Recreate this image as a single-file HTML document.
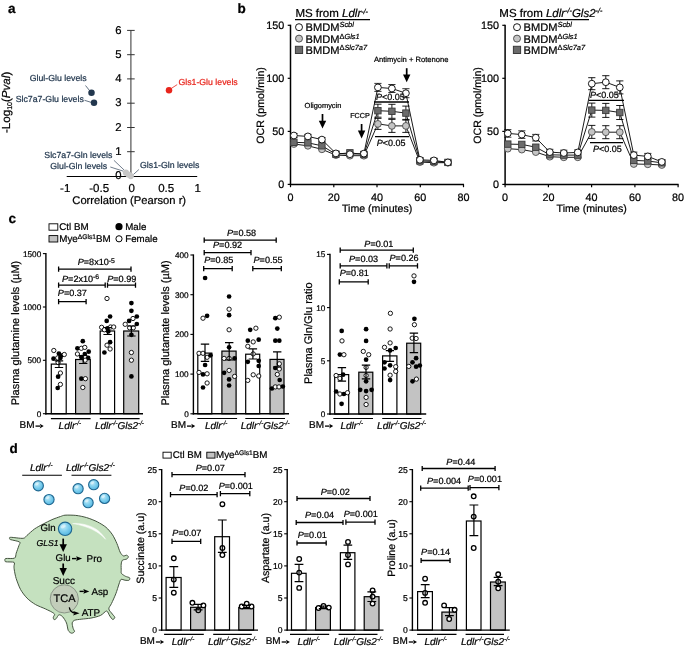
<!DOCTYPE html>
<html lang="en"><head><meta charset="utf-8"><title>Figure</title>
<style>
html,body{margin:0;padding:0;background:#fff;}
svg{display:block;font-family:'Liberation Sans', sans-serif;}
</style></head>
<body>
<svg width="685" height="648" viewBox="0 0 685 648" text-rendering="geometricPrecision" font-family='Liberation Sans, sans-serif'>
<defs>
<radialGradient id="bg" cx="0.4" cy="0.35" r="0.7">
<stop offset="0" stop-color="#bfe9f7"/><stop offset="0.5" stop-color="#7fcfee"/><stop offset="1" stop-color="#4eb3df"/>
</radialGradient>
</defs>
<rect width="685" height="648" fill="#fff"/>
<text x="8.0" y="13.3" font-size="13.5" font-weight="bold" stroke="#000" stroke-width="0.22">a</text>
<line x1="130.9" y1="30.4" x2="130.9" y2="176.0" stroke="#444" stroke-width="1.1" />
<line x1="66.7" y1="176.5" x2="197.2" y2="176.5" stroke="#000" stroke-width="1.1" />
<text x="121.6" y="179.2" font-size="11.3" text-anchor="end" stroke="#000" stroke-width="0.22">0</text>
<line x1="127.1" y1="151.7" x2="134.7" y2="151.7" stroke="#333" stroke-width="1" />
<text x="121.6" y="154.9" font-size="11.3" text-anchor="end" stroke="#000" stroke-width="0.22">1</text>
<line x1="127.1" y1="127.5" x2="134.7" y2="127.5" stroke="#333" stroke-width="1" />
<text x="121.6" y="130.7" font-size="11.3" text-anchor="end" stroke="#000" stroke-width="0.22">2</text>
<line x1="127.1" y1="103.2" x2="134.7" y2="103.2" stroke="#333" stroke-width="1" />
<text x="121.6" y="106.4" font-size="11.3" text-anchor="end" stroke="#000" stroke-width="0.22">3</text>
<line x1="127.1" y1="78.9" x2="134.7" y2="78.9" stroke="#333" stroke-width="1" />
<text x="121.6" y="82.1" font-size="11.3" text-anchor="end" stroke="#000" stroke-width="0.22">4</text>
<line x1="127.1" y1="54.7" x2="134.7" y2="54.7" stroke="#333" stroke-width="1" />
<text x="121.6" y="57.9" font-size="11.3" text-anchor="end" stroke="#000" stroke-width="0.22">5</text>
<line x1="127.1" y1="30.4" x2="134.7" y2="30.4" stroke="#333" stroke-width="1" />
<text x="121.6" y="33.6" font-size="11.3" text-anchor="end" stroke="#000" stroke-width="0.22">6</text>
<text x="65.2" y="192.4" font-size="11.5" text-anchor="middle" stroke="#000" stroke-width="0.22">-1</text>
<text x="99.2" y="192.4" font-size="11.5" text-anchor="middle" stroke="#000" stroke-width="0.22">-0.5</text>
<text x="131.7" y="192.4" font-size="11.5" text-anchor="middle" stroke="#000" stroke-width="0.22">0</text>
<text x="166.2" y="192.4" font-size="11.5" text-anchor="middle" stroke="#000" stroke-width="0.22">0.5</text>
<text x="197.7" y="192.4" font-size="11.5" text-anchor="middle" stroke="#000" stroke-width="0.22">1</text>
<text x="129.2" y="203.8" font-size="11.2" text-anchor="middle" stroke="#000" stroke-width="0.22">Correlation (Pearson r)</text>
<text x="9.8" y="102.4" font-size="11.6" text-anchor="middle" transform="rotate(-90 9.8 102.4)" stroke="#000" stroke-width="0.22">-Log<tspan font-size="7" dy="1.9">10</tspan><tspan dy="-1.9">(</tspan><tspan font-style="italic">Pval</tspan>)</text>
<line x1="113.9" y1="160.3" x2="124.1" y2="170.0" stroke="#33455a" stroke-width="0.7" />
<line x1="110.3" y1="167.0" x2="123.1" y2="171.1" stroke="#33455a" stroke-width="0.7" />
<line x1="138.9" y1="169.5" x2="133.3" y2="174.6" stroke="#33455a" stroke-width="0.7" />
<circle cx="125.9" cy="172.7" r="3.1" fill="#c6c6c6" stroke="none" stroke-width="0"/>
<circle cx="128.4" cy="174.5" r="3.1" fill="#c6c6c6" stroke="none" stroke-width="0"/>
<circle cx="130.8" cy="176.1" r="3.1" fill="#c6c6c6" stroke="none" stroke-width="0"/>
<circle cx="91.5" cy="92.7" r="3.25" fill="#22374e" stroke="none" stroke-width="0"/>
<circle cx="94.0" cy="102.7" r="3.25" fill="#22374e" stroke="none" stroke-width="0"/>
<line x1="85.5" y1="85.5" x2="89.5" y2="90.5" stroke="#22374e" stroke-width="0.7" />
<line x1="84.5" y1="100.3" x2="91.0" y2="102.3" stroke="#22374e" stroke-width="0.7" />
<text x="29.7" y="81.0" font-size="8.75" fill="#22374e" stroke="#22374e" stroke-width="0.22">Glul-Glu levels</text>
<text x="15.7" y="102.0" font-size="8.75" fill="#22374e" stroke="#22374e" stroke-width="0.22">Slc7a7-Glu levels</text>
<text x="44.3" y="158.3" font-size="8.75" fill="#22374e" stroke="#22374e" stroke-width="0.22">Slc7a7-Gln levels</text>
<text x="50.3" y="168.5" font-size="8.75" fill="#22374e" stroke="#22374e" stroke-width="0.22">Glul-Gln levels</text>
<text x="140.0" y="168.3" font-size="8.75" fill="#22374e" stroke="#22374e" stroke-width="0.22">Gls1-Gln levels</text>
<circle cx="169.0" cy="90.3" r="3.25" fill="#e8251c" stroke="none" stroke-width="0"/>
<line x1="171.5" y1="88.3" x2="177.2" y2="84.6" stroke="#e8251c" stroke-width="0.8" />
<text x="178.4" y="84.7" font-size="8.75" fill="#e8251c" stroke="#e8251c" stroke-width="0.22">Gls1-Glu levels</text>
<text x="237.4" y="13.3" font-size="13.5" font-weight="bold" stroke="#000" stroke-width="0.22">b</text>
<line x1="290.5" y1="24.7" x2="290.5" y2="185.1" stroke="#000" stroke-width="1.5" />
<line x1="289.8" y1="184.4" x2="464.0" y2="184.4" stroke="#000" stroke-width="1.5" />
<line x1="287.7" y1="184.4" x2="290.5" y2="184.4" stroke="#000" stroke-width="1.2" />
<text x="284.3" y="188.3" font-size="10.8" text-anchor="end" stroke="#000" stroke-width="0.22">0</text>
<line x1="287.7" y1="131.4" x2="290.5" y2="131.4" stroke="#000" stroke-width="1.2" />
<text x="284.3" y="135.3" font-size="10.8" text-anchor="end" stroke="#000" stroke-width="0.22">50</text>
<line x1="287.7" y1="78.3" x2="290.5" y2="78.3" stroke="#000" stroke-width="1.2" />
<text x="284.3" y="82.2" font-size="10.8" text-anchor="end" stroke="#000" stroke-width="0.22">100</text>
<line x1="287.7" y1="25.3" x2="290.5" y2="25.3" stroke="#000" stroke-width="1.2" />
<text x="284.3" y="29.2" font-size="10.8" text-anchor="end" stroke="#000" stroke-width="0.22">150</text>
<line x1="290.5" y1="184.4" x2="290.5" y2="187.2" stroke="#000" stroke-width="1.2" />
<text x="290.5" y="201.4" font-size="10.8" text-anchor="middle" stroke="#000" stroke-width="0.22">0</text>
<line x1="333.8" y1="184.4" x2="333.8" y2="187.2" stroke="#000" stroke-width="1.2" />
<text x="333.8" y="201.4" font-size="10.8" text-anchor="middle" stroke="#000" stroke-width="0.22">20</text>
<line x1="377.0" y1="184.4" x2="377.0" y2="187.2" stroke="#000" stroke-width="1.2" />
<text x="377.0" y="201.4" font-size="10.8" text-anchor="middle" stroke="#000" stroke-width="0.22">40</text>
<line x1="420.3" y1="184.4" x2="420.3" y2="187.2" stroke="#000" stroke-width="1.2" />
<text x="420.3" y="201.4" font-size="10.8" text-anchor="middle" stroke="#000" stroke-width="0.22">60</text>
<line x1="463.5" y1="184.4" x2="463.5" y2="187.2" stroke="#000" stroke-width="1.2" />
<text x="463.5" y="201.4" font-size="10.8" text-anchor="middle" stroke="#000" stroke-width="0.22">80</text>
<text x="377.1" y="212.2" font-size="10.6" text-anchor="middle" stroke="#000" stroke-width="0.22">Time (minutes)</text>
<text x="264.5" y="105.4" font-size="10.6" text-anchor="middle" transform="rotate(-90 264.5 105.4)" stroke="#000" stroke-width="0.22">OCR (pmol/min)</text>
<text x="295.4" y="17.4" font-size="11.5" stroke="#000" stroke-width="0.22">MS from <tspan font-style="italic">Ldlr<tspan font-size="7.2" dy="-3.6">-/-</tspan></tspan></text>
<line x1="295.0" y1="19.6" x2="370.0" y2="19.6" stroke="#000" stroke-width="1.1" />
<circle cx="299.0" cy="27.2" r="3.5" fill="#fff" stroke="#000" stroke-width="0.9"/>
<circle cx="299.0" cy="38.6" r="3.5" fill="#c4c4c4" stroke="#444" stroke-width="0.9"/>
<rect x="295.4" y="46.3" width="7.2" height="7.2" fill="#6b6b6b" stroke="#3a3a3a" stroke-width="1"/>
<text x="305.6" y="31.2" font-size="11.1" stroke="#000" stroke-width="0.22">BMDM<tspan font-size="7.4" dy="-4" font-style="italic">Scbl</tspan></text>
<text x="305.6" y="42.6" font-size="11.1" stroke="#000" stroke-width="0.22">BMDM<tspan font-size="7.4" dy="-4">Δ<tspan font-style="italic">Gls1</tspan></tspan></text>
<text x="305.6" y="54.0" font-size="11.1" stroke="#000" stroke-width="0.22">BMDM<tspan font-size="7.4" dy="-4">Δ<tspan font-style="italic">Slc7a7</tspan></tspan></text>
<polyline points="293.9,144.0 307.9,145.8 321.9,149.3 335.9,155.1 349.9,155.7 363.9,155.7 377.9,123.9 391.9,125.9 405.9,125.9 419.9,162.1 433.9,162.7 447.9,162.7" fill="none" stroke="#000" stroke-width="0.9"/>
<polyline points="293.9,142.3 307.9,142.8 321.9,145.8 335.9,154.2 349.9,152.8 363.9,154.5 377.9,110.7 391.9,111.3 405.9,113.1 419.9,160.9 433.9,161.5 447.9,162.4" fill="none" stroke="#000" stroke-width="0.9"/>
<polyline points="293.9,135.5 307.9,136.4 321.9,139.6 335.9,153.4 349.9,154.2 363.9,153.6 377.9,87.4 391.9,88.5 405.9,93.2 419.9,159.8 433.9,160.4 447.9,162.4" fill="none" stroke="#000" stroke-width="0.9"/>
<path d="M374.3 118.4H381.5M377.9 118.4V129.4M374.3 129.4H381.5" stroke="#000" stroke-width="0.9" fill="none" />
<path d="M388.3 119.4H395.5M391.9 119.4V132.4M388.3 132.4H395.5" stroke="#000" stroke-width="0.9" fill="none" />
<path d="M402.3 119.4H409.5M405.9 119.4V132.4M402.3 132.4H409.5" stroke="#000" stroke-width="0.9" fill="none" />
<path d="M374.3 104.2H381.5M377.9 104.2V117.2M374.3 117.2H381.5" stroke="#000" stroke-width="0.9" fill="none" />
<path d="M388.3 104.3H395.5M391.9 104.3V118.3M388.3 118.3H395.5" stroke="#000" stroke-width="0.9" fill="none" />
<path d="M402.3 106.1H409.5M405.9 106.1V120.1M402.3 120.1H409.5" stroke="#000" stroke-width="0.9" fill="none" />
<path d="M290.3 133.5H297.5M293.9 133.5V137.5M290.3 137.5H297.5" stroke="#000" stroke-width="0.8" fill="none" />
<path d="M304.3 134.4H311.5M307.9 134.4V138.4M304.3 138.4H311.5" stroke="#000" stroke-width="0.8" fill="none" />
<path d="M318.3 137.6H325.5M321.9 137.6V141.6M318.3 141.6H325.5" stroke="#000" stroke-width="0.8" fill="none" />
<path d="M332.3 151.9H339.5M335.9 151.9V154.9M332.3 154.9H339.5" stroke="#000" stroke-width="0.8" fill="none" />
<path d="M346.3 152.7H353.5M349.9 152.7V155.7M346.3 155.7H353.5" stroke="#000" stroke-width="0.8" fill="none" />
<path d="M360.3 152.1H367.5M363.9 152.1V155.1M360.3 155.1H367.5" stroke="#000" stroke-width="0.8" fill="none" />
<path d="M374.3 83.4H381.5M377.9 83.4V91.4M374.3 91.4H381.5" stroke="#000" stroke-width="0.8" fill="none" />
<path d="M388.3 84.5H395.5M391.9 84.5V92.5M388.3 92.5H395.5" stroke="#000" stroke-width="0.8" fill="none" />
<path d="M402.3 88.7H409.5M405.9 88.7V97.7M402.3 97.7H409.5" stroke="#000" stroke-width="0.8" fill="none" />
<path d="M416.3 157.8H423.5M419.9 157.8V161.8M416.3 161.8H423.5" stroke="#000" stroke-width="0.8" fill="none" />
<path d="M430.3 158.4H437.5M433.9 158.4V162.4M430.3 162.4H437.5" stroke="#000" stroke-width="0.8" fill="none" />
<path d="M444.3 160.9H451.5M447.9 160.9V163.9M444.3 163.9H451.5" stroke="#000" stroke-width="0.8" fill="none" />
<circle cx="293.9" cy="144.0" r="3.4" fill="#c4c4c4" stroke="#444" stroke-width="0.85"/>
<circle cx="307.9" cy="145.8" r="3.4" fill="#c4c4c4" stroke="#444" stroke-width="0.85"/>
<circle cx="321.9" cy="149.3" r="3.4" fill="#c4c4c4" stroke="#444" stroke-width="0.85"/>
<circle cx="335.9" cy="155.1" r="3.4" fill="#c4c4c4" stroke="#444" stroke-width="0.85"/>
<circle cx="349.9" cy="155.7" r="3.4" fill="#c4c4c4" stroke="#444" stroke-width="0.85"/>
<circle cx="363.9" cy="155.7" r="3.4" fill="#c4c4c4" stroke="#444" stroke-width="0.85"/>
<circle cx="377.9" cy="123.9" r="3.4" fill="#c4c4c4" stroke="#444" stroke-width="0.85"/>
<circle cx="391.9" cy="125.9" r="3.4" fill="#c4c4c4" stroke="#444" stroke-width="0.85"/>
<circle cx="405.9" cy="125.9" r="3.4" fill="#c4c4c4" stroke="#444" stroke-width="0.85"/>
<circle cx="419.9" cy="162.1" r="3.4" fill="#c4c4c4" stroke="#444" stroke-width="0.85"/>
<circle cx="433.9" cy="162.7" r="3.4" fill="#c4c4c4" stroke="#444" stroke-width="0.85"/>
<circle cx="447.9" cy="162.7" r="3.4" fill="#c4c4c4" stroke="#444" stroke-width="0.85"/>
<rect x="290.7" y="139.1" width="6.4" height="6.4" fill="#6b6b6b" stroke="#3a3a3a" stroke-width="0.9"/>
<rect x="304.7" y="139.6" width="6.4" height="6.4" fill="#6b6b6b" stroke="#3a3a3a" stroke-width="0.9"/>
<rect x="318.7" y="142.6" width="6.4" height="6.4" fill="#6b6b6b" stroke="#3a3a3a" stroke-width="0.9"/>
<rect x="332.7" y="151.0" width="6.4" height="6.4" fill="#6b6b6b" stroke="#3a3a3a" stroke-width="0.9"/>
<rect x="346.7" y="149.6" width="6.4" height="6.4" fill="#6b6b6b" stroke="#3a3a3a" stroke-width="0.9"/>
<rect x="360.7" y="151.3" width="6.4" height="6.4" fill="#6b6b6b" stroke="#3a3a3a" stroke-width="0.9"/>
<rect x="374.7" y="107.5" width="6.4" height="6.4" fill="#6b6b6b" stroke="#3a3a3a" stroke-width="0.9"/>
<rect x="388.7" y="108.1" width="6.4" height="6.4" fill="#6b6b6b" stroke="#3a3a3a" stroke-width="0.9"/>
<rect x="402.7" y="109.9" width="6.4" height="6.4" fill="#6b6b6b" stroke="#3a3a3a" stroke-width="0.9"/>
<rect x="416.7" y="157.7" width="6.4" height="6.4" fill="#6b6b6b" stroke="#3a3a3a" stroke-width="0.9"/>
<rect x="430.7" y="158.3" width="6.4" height="6.4" fill="#6b6b6b" stroke="#3a3a3a" stroke-width="0.9"/>
<rect x="444.7" y="159.2" width="6.4" height="6.4" fill="#6b6b6b" stroke="#3a3a3a" stroke-width="0.9"/>
<circle cx="293.9" cy="135.5" r="3.4" fill="#fff" stroke="#000" stroke-width="0.9"/>
<circle cx="307.9" cy="136.4" r="3.4" fill="#fff" stroke="#000" stroke-width="0.9"/>
<circle cx="321.9" cy="139.6" r="3.4" fill="#fff" stroke="#000" stroke-width="0.9"/>
<circle cx="335.9" cy="153.4" r="3.4" fill="#fff" stroke="#000" stroke-width="0.9"/>
<circle cx="349.9" cy="154.2" r="3.4" fill="#fff" stroke="#000" stroke-width="0.9"/>
<circle cx="363.9" cy="153.6" r="3.4" fill="#fff" stroke="#000" stroke-width="0.9"/>
<circle cx="377.9" cy="87.4" r="3.4" fill="#fff" stroke="#000" stroke-width="0.9"/>
<circle cx="391.9" cy="88.5" r="3.4" fill="#fff" stroke="#000" stroke-width="0.9"/>
<circle cx="405.9" cy="93.2" r="3.4" fill="#fff" stroke="#000" stroke-width="0.9"/>
<circle cx="419.9" cy="159.8" r="3.4" fill="#fff" stroke="#000" stroke-width="0.9"/>
<circle cx="433.9" cy="160.4" r="3.4" fill="#fff" stroke="#000" stroke-width="0.9"/>
<circle cx="447.9" cy="162.4" r="3.4" fill="#fff" stroke="#000" stroke-width="0.9"/>
<line x1="374.0" y1="102.0" x2="409.0" y2="102.0" stroke="#000" stroke-width="1.3" />
<line x1="375.0" y1="136.7" x2="409.0" y2="136.7" stroke="#000" stroke-width="1.3" />
<text x="376.0" y="100.2" font-size="9.0" stroke="#000" stroke-width="0.22"><tspan font-style="italic">P</tspan>&lt;0.05</text>
<text x="376.8" y="145.8" font-size="9.0" stroke="#000" stroke-width="0.22"><tspan font-style="italic">P</tspan>&lt;0.05</text>
<text x="304.6" y="108.4" font-size="7.45" stroke="#000" stroke-width="0.22">Oligomycin</text>
<line x1="322.5" y1="114.0" x2="322.5" y2="121.8" stroke="#000" stroke-width="1.7" />
<path d="M322.5 128.6L318.8 120.8L326.2 120.8Z" fill="#000"/>
<text x="350.2" y="117.8" font-size="7.2" stroke="#000" stroke-width="0.22">FCCP</text>
<line x1="361.6" y1="124.0" x2="361.6" y2="131.6" stroke="#000" stroke-width="1.7" />
<path d="M361.6 138.4L357.9 130.6L365.3 130.6Z" fill="#000"/>
<text x="373.9" y="61.7" font-size="7.6" stroke="#000" stroke-width="0.22">Antimycin + Rotenone</text>
<line x1="406.7" y1="68.2" x2="406.7" y2="75.5" stroke="#000" stroke-width="1.7" />
<path d="M406.7 82.3L403.0 74.5L410.4 74.5Z" fill="#000"/>
<line x1="505.1" y1="24.7" x2="505.1" y2="185.1" stroke="#000" stroke-width="1.5" />
<line x1="504.4" y1="184.4" x2="678.6" y2="184.4" stroke="#000" stroke-width="1.5" />
<line x1="502.3" y1="184.4" x2="505.1" y2="184.4" stroke="#000" stroke-width="1.2" />
<text x="498.9" y="188.3" font-size="10.8" text-anchor="end" stroke="#000" stroke-width="0.22">0</text>
<line x1="502.3" y1="131.4" x2="505.1" y2="131.4" stroke="#000" stroke-width="1.2" />
<text x="498.9" y="135.3" font-size="10.8" text-anchor="end" stroke="#000" stroke-width="0.22">50</text>
<line x1="502.3" y1="78.3" x2="505.1" y2="78.3" stroke="#000" stroke-width="1.2" />
<text x="498.9" y="82.2" font-size="10.8" text-anchor="end" stroke="#000" stroke-width="0.22">100</text>
<line x1="502.3" y1="25.3" x2="505.1" y2="25.3" stroke="#000" stroke-width="1.2" />
<text x="498.9" y="29.2" font-size="10.8" text-anchor="end" stroke="#000" stroke-width="0.22">150</text>
<line x1="505.1" y1="184.4" x2="505.1" y2="187.2" stroke="#000" stroke-width="1.2" />
<text x="505.1" y="201.4" font-size="10.8" text-anchor="middle" stroke="#000" stroke-width="0.22">0</text>
<line x1="548.4" y1="184.4" x2="548.4" y2="187.2" stroke="#000" stroke-width="1.2" />
<text x="548.4" y="201.4" font-size="10.8" text-anchor="middle" stroke="#000" stroke-width="0.22">20</text>
<line x1="591.6" y1="184.4" x2="591.6" y2="187.2" stroke="#000" stroke-width="1.2" />
<text x="591.6" y="201.4" font-size="10.8" text-anchor="middle" stroke="#000" stroke-width="0.22">40</text>
<line x1="634.9" y1="184.4" x2="634.9" y2="187.2" stroke="#000" stroke-width="1.2" />
<text x="634.9" y="201.4" font-size="10.8" text-anchor="middle" stroke="#000" stroke-width="0.22">60</text>
<line x1="678.1" y1="184.4" x2="678.1" y2="187.2" stroke="#000" stroke-width="1.2" />
<text x="678.1" y="201.4" font-size="10.8" text-anchor="middle" stroke="#000" stroke-width="0.22">80</text>
<text x="591.7" y="212.2" font-size="10.6" text-anchor="middle" stroke="#000" stroke-width="0.22">Time (minutes)</text>
<text x="481.1" y="105.4" font-size="10.6" text-anchor="middle" transform="rotate(-90 481.1 105.4)" stroke="#000" stroke-width="0.22">OCR (pmol/min)</text>
<text x="499.3" y="16.8" font-size="11.5" stroke="#000" stroke-width="0.22">MS from <tspan font-style="italic">Ldlr<tspan font-size="7.2" dy="-3.6">-/-</tspan><tspan dy="3.6">Gls2</tspan><tspan font-size="7.2" dy="-3.6">-/-</tspan></tspan></text>
<line x1="514.0" y1="19.6" x2="589.0" y2="19.6" stroke="#000" stroke-width="1.1" />
<circle cx="517.0" cy="27.2" r="3.5" fill="#fff" stroke="#000" stroke-width="0.9"/>
<circle cx="517.0" cy="38.6" r="3.5" fill="#c4c4c4" stroke="#444" stroke-width="0.9"/>
<rect x="513.4" y="46.3" width="7.2" height="7.2" fill="#6b6b6b" stroke="#3a3a3a" stroke-width="1"/>
<text x="523.6" y="31.2" font-size="11.1" stroke="#000" stroke-width="0.22">BMDM<tspan font-size="7.4" dy="-4" font-style="italic">Scbl</tspan></text>
<text x="523.6" y="42.6" font-size="11.1" stroke="#000" stroke-width="0.22">BMDM<tspan font-size="7.4" dy="-4">Δ<tspan font-style="italic">Gls1</tspan></tspan></text>
<text x="523.6" y="54.0" font-size="11.1" stroke="#000" stroke-width="0.22">BMDM<tspan font-size="7.4" dy="-4">Δ<tspan font-style="italic">Slc7a7</tspan></tspan></text>
<polyline points="507.8,148.7 521.8,149.6 535.8,152.1 549.8,156.7 563.8,157.3 577.8,157.3 591.8,131.9 605.8,132.2 619.8,132.2 633.8,164.0 647.8,164.3 661.8,165.0" fill="none" stroke="#000" stroke-width="0.9"/>
<polyline points="507.8,144.1 521.8,144.4 535.8,147.2 549.8,154.8 563.8,155.1 577.8,155.1 591.8,110.1 605.8,110.4 619.8,112.5 633.8,160.4 647.8,161.0 661.8,162.8" fill="none" stroke="#000" stroke-width="0.9"/>
<polyline points="507.8,133.4 521.8,134.6 535.8,137.7 549.8,152.1 563.8,153.0 577.8,152.4 591.8,83.7 605.8,82.2 619.8,87.4 633.8,155.1 647.8,156.4 661.8,161.9" fill="none" stroke="#000" stroke-width="0.9"/>
<path d="M588.2 125.4H595.4M591.8 125.4V138.4M588.2 138.4H595.4" stroke="#000" stroke-width="0.9" fill="none" />
<path d="M602.2 125.7H609.4M605.8 125.7V138.7M602.2 138.7H609.4" stroke="#000" stroke-width="0.9" fill="none" />
<path d="M616.2 125.7H623.4M619.8 125.7V138.7M616.2 138.7H623.4" stroke="#000" stroke-width="0.9" fill="none" />
<path d="M588.2 103.1H595.4M591.8 103.1V117.1M588.2 117.1H595.4" stroke="#000" stroke-width="0.9" fill="none" />
<path d="M602.2 103.4H609.4M605.8 103.4V117.4M602.2 117.4H609.4" stroke="#000" stroke-width="0.9" fill="none" />
<path d="M616.2 105.5H623.4M619.8 105.5V119.5M616.2 119.5H623.4" stroke="#000" stroke-width="0.9" fill="none" />
<path d="M504.2 129.6H511.4M507.8 129.6V137.2M504.2 137.2H511.4" stroke="#000" stroke-width="0.8" fill="none" />
<path d="M518.2 130.8H525.4M521.8 130.8V138.4M518.2 138.4H525.4" stroke="#000" stroke-width="0.8" fill="none" />
<path d="M532.2 134.4H539.4M535.8 134.4V141.0M532.2 141.0H539.4" stroke="#000" stroke-width="0.8" fill="none" />
<path d="M546.2 149.3H553.4M549.8 149.3V154.9M546.2 154.9H553.4" stroke="#000" stroke-width="0.8" fill="none" />
<path d="M560.2 150.2H567.4M563.8 150.2V155.8M560.2 155.8H567.4" stroke="#000" stroke-width="0.8" fill="none" />
<path d="M574.2 149.9H581.4M577.8 149.9V154.9M574.2 154.9H581.4" stroke="#000" stroke-width="0.8" fill="none" />
<path d="M588.2 77.7H595.4M591.8 77.7V89.7M588.2 89.7H595.4" stroke="#000" stroke-width="0.9" fill="none" />
<path d="M602.2 75.7H609.4M605.8 75.7V88.7M602.2 88.7H609.4" stroke="#000" stroke-width="0.9" fill="none" />
<path d="M616.2 80.9H623.4M619.8 80.9V93.9M616.2 93.9H623.4" stroke="#000" stroke-width="0.9" fill="none" />
<path d="M630.2 152.1H637.4M633.8 152.1V158.1M630.2 158.1H637.4" stroke="#000" stroke-width="0.8" fill="none" />
<path d="M644.2 153.4H651.4M647.8 153.4V159.4M644.2 159.4H651.4" stroke="#000" stroke-width="0.8" fill="none" />
<path d="M658.2 159.9H665.4M661.8 159.9V163.9M658.2 163.9H665.4" stroke="#000" stroke-width="0.8" fill="none" />
<circle cx="507.8" cy="148.7" r="3.4" fill="#c4c4c4" stroke="#444" stroke-width="0.85"/>
<circle cx="521.8" cy="149.6" r="3.4" fill="#c4c4c4" stroke="#444" stroke-width="0.85"/>
<circle cx="535.8" cy="152.1" r="3.4" fill="#c4c4c4" stroke="#444" stroke-width="0.85"/>
<circle cx="549.8" cy="156.7" r="3.4" fill="#c4c4c4" stroke="#444" stroke-width="0.85"/>
<circle cx="563.8" cy="157.3" r="3.4" fill="#c4c4c4" stroke="#444" stroke-width="0.85"/>
<circle cx="577.8" cy="157.3" r="3.4" fill="#c4c4c4" stroke="#444" stroke-width="0.85"/>
<circle cx="591.8" cy="131.9" r="3.4" fill="#c4c4c4" stroke="#444" stroke-width="0.85"/>
<circle cx="605.8" cy="132.2" r="3.4" fill="#c4c4c4" stroke="#444" stroke-width="0.85"/>
<circle cx="619.8" cy="132.2" r="3.4" fill="#c4c4c4" stroke="#444" stroke-width="0.85"/>
<circle cx="633.8" cy="164.0" r="3.4" fill="#c4c4c4" stroke="#444" stroke-width="0.85"/>
<circle cx="647.8" cy="164.3" r="3.4" fill="#c4c4c4" stroke="#444" stroke-width="0.85"/>
<circle cx="661.8" cy="165.0" r="3.4" fill="#c4c4c4" stroke="#444" stroke-width="0.85"/>
<rect x="504.6" y="140.9" width="6.4" height="6.4" fill="#6b6b6b" stroke="#3a3a3a" stroke-width="0.9"/>
<rect x="518.6" y="141.2" width="6.4" height="6.4" fill="#6b6b6b" stroke="#3a3a3a" stroke-width="0.9"/>
<rect x="532.6" y="144.0" width="6.4" height="6.4" fill="#6b6b6b" stroke="#3a3a3a" stroke-width="0.9"/>
<rect x="546.6" y="151.6" width="6.4" height="6.4" fill="#6b6b6b" stroke="#3a3a3a" stroke-width="0.9"/>
<rect x="560.6" y="151.9" width="6.4" height="6.4" fill="#6b6b6b" stroke="#3a3a3a" stroke-width="0.9"/>
<rect x="574.6" y="151.9" width="6.4" height="6.4" fill="#6b6b6b" stroke="#3a3a3a" stroke-width="0.9"/>
<rect x="588.6" y="106.9" width="6.4" height="6.4" fill="#6b6b6b" stroke="#3a3a3a" stroke-width="0.9"/>
<rect x="602.6" y="107.2" width="6.4" height="6.4" fill="#6b6b6b" stroke="#3a3a3a" stroke-width="0.9"/>
<rect x="616.6" y="109.3" width="6.4" height="6.4" fill="#6b6b6b" stroke="#3a3a3a" stroke-width="0.9"/>
<rect x="630.6" y="157.2" width="6.4" height="6.4" fill="#6b6b6b" stroke="#3a3a3a" stroke-width="0.9"/>
<rect x="644.6" y="157.8" width="6.4" height="6.4" fill="#6b6b6b" stroke="#3a3a3a" stroke-width="0.9"/>
<rect x="658.6" y="159.6" width="6.4" height="6.4" fill="#6b6b6b" stroke="#3a3a3a" stroke-width="0.9"/>
<circle cx="507.8" cy="133.4" r="3.4" fill="#fff" stroke="#000" stroke-width="0.9"/>
<circle cx="521.8" cy="134.6" r="3.4" fill="#fff" stroke="#000" stroke-width="0.9"/>
<circle cx="535.8" cy="137.7" r="3.4" fill="#fff" stroke="#000" stroke-width="0.9"/>
<circle cx="549.8" cy="152.1" r="3.4" fill="#fff" stroke="#000" stroke-width="0.9"/>
<circle cx="563.8" cy="153.0" r="3.4" fill="#fff" stroke="#000" stroke-width="0.9"/>
<circle cx="577.8" cy="152.4" r="3.4" fill="#fff" stroke="#000" stroke-width="0.9"/>
<circle cx="591.8" cy="83.7" r="3.4" fill="#fff" stroke="#000" stroke-width="0.9"/>
<circle cx="605.8" cy="82.2" r="3.4" fill="#fff" stroke="#000" stroke-width="0.9"/>
<circle cx="619.8" cy="87.4" r="3.4" fill="#fff" stroke="#000" stroke-width="0.9"/>
<circle cx="633.8" cy="155.1" r="3.4" fill="#fff" stroke="#000" stroke-width="0.9"/>
<circle cx="647.8" cy="156.4" r="3.4" fill="#fff" stroke="#000" stroke-width="0.9"/>
<circle cx="661.8" cy="161.9" r="3.4" fill="#fff" stroke="#000" stroke-width="0.9"/>
<line x1="589.0" y1="100.3" x2="624.0" y2="100.3" stroke="#000" stroke-width="1.3" />
<line x1="590.0" y1="142.6" x2="623.0" y2="142.6" stroke="#000" stroke-width="1.3" />
<text x="590.0" y="98.0" font-size="9.0" stroke="#000" stroke-width="0.22"><tspan font-style="italic">P</tspan>&lt;0.05</text>
<text x="593.0" y="151.6" font-size="9.0" stroke="#000" stroke-width="0.22"><tspan font-style="italic">P</tspan>&lt;0.05</text>
<text x="8.5" y="223.2" font-size="13.5" font-weight="bold" stroke="#000" stroke-width="0.22">c</text>
<rect x="49.0" y="223.8" width="8.8" height="6.4" fill="#fff" stroke="#000" stroke-width="0.9"/>
<text x="59.3" y="229.8" font-size="9.8" stroke="#000" stroke-width="0.22">Ctl BM</text>
<rect x="49.0" y="235.6" width="8.8" height="6.4" fill="#c3c3c3" stroke="#000" stroke-width="0.9"/>
<text x="59.3" y="241.8" font-size="9.8" stroke="#000" stroke-width="0.22">Mye<tspan font-size="6.7" dy="-3.1">ΔGls1</tspan><tspan dy="3.1">BM</tspan></text>
<circle cx="119.0" cy="226.7" r="3.6" fill="#000" stroke="none" stroke-width="0"/>
<text x="125.3" y="229.8" font-size="9.7" stroke="#000" stroke-width="0.22">Male</text>
<circle cx="119.0" cy="238.8" r="3.1" fill="#fff" stroke="#000" stroke-width="1"/>
<text x="125.3" y="241.6" font-size="9.7" stroke="#000" stroke-width="0.22">Female</text>
<rect x="51.3" y="364.1" width="14.9" height="49.6" fill="#fff" stroke="#000" stroke-width="1.2"/>
<rect x="75.6" y="359.5" width="14.7" height="54.2" fill="#c3c3c3" stroke="#000" stroke-width="1.2"/>
<rect x="100.2" y="331.0" width="14.4" height="82.7" fill="#fff" stroke="#000" stroke-width="1.2"/>
<rect x="123.7" y="331.0" width="15.0" height="82.7" fill="#c3c3c3" stroke="#000" stroke-width="1.2"/>
<line x1="45.9" y1="253.0" x2="45.9" y2="414.4" stroke="#000" stroke-width="1.4" />
<line x1="45.2" y1="413.7" x2="143.0" y2="413.7" stroke="#000" stroke-width="1.4" />
<line x1="42.9" y1="413.7" x2="45.9" y2="413.7" stroke="#000" stroke-width="1.1" />
<text x="41.2" y="416.6" font-size="8.2" text-anchor="end" stroke="#000" stroke-width="0.22">0</text>
<line x1="42.9" y1="360.3" x2="45.9" y2="360.3" stroke="#000" stroke-width="1.1" />
<text x="41.2" y="363.2" font-size="8.2" text-anchor="end" stroke="#000" stroke-width="0.22">500</text>
<line x1="42.9" y1="307.0" x2="45.9" y2="307.0" stroke="#000" stroke-width="1.1" />
<text x="41.2" y="309.9" font-size="8.2" text-anchor="end" stroke="#000" stroke-width="0.22">1000</text>
<line x1="42.9" y1="253.6" x2="45.9" y2="253.6" stroke="#000" stroke-width="1.1" />
<text x="41.2" y="256.5" font-size="8.2" text-anchor="end" stroke="#000" stroke-width="0.22">1500</text>
<circle cx="53.8" cy="350.5" r="2.15" fill="#fff" stroke="#000" stroke-width="0.9"/>
<circle cx="58.9" cy="353.6" r="2.35" fill="#000" stroke="none" stroke-width="0"/>
<circle cx="61.2" cy="355.6" r="2.35" fill="#000" stroke="none" stroke-width="0"/>
<circle cx="64.3" cy="354.5" r="2.15" fill="#fff" stroke="#000" stroke-width="0.9"/>
<circle cx="53.5" cy="358.7" r="2.35" fill="#000" stroke="none" stroke-width="0"/>
<circle cx="57.7" cy="357.9" r="2.15" fill="#fff" stroke="#000" stroke-width="0.9"/>
<circle cx="60.4" cy="357.9" r="2.35" fill="#000" stroke="none" stroke-width="0"/>
<circle cx="58.1" cy="362.5" r="2.15" fill="#fff" stroke="#000" stroke-width="0.9"/>
<circle cx="60.4" cy="373.0" r="2.15" fill="#fff" stroke="#000" stroke-width="0.9"/>
<circle cx="58.1" cy="376.7" r="2.35" fill="#000" stroke="none" stroke-width="0"/>
<circle cx="60.4" cy="384.4" r="2.15" fill="#fff" stroke="#000" stroke-width="0.9"/>
<circle cx="57.7" cy="388.0" r="2.35" fill="#000" stroke="none" stroke-width="0"/>
<circle cx="82.8" cy="341.2" r="2.35" fill="#000" stroke="none" stroke-width="0"/>
<circle cx="77.4" cy="348.3" r="2.35" fill="#000" stroke="none" stroke-width="0"/>
<circle cx="81.3" cy="348.3" r="2.15" fill="#fff" stroke="#000" stroke-width="0.9"/>
<circle cx="84.8" cy="347.4" r="2.15" fill="#fff" stroke="#000" stroke-width="0.9"/>
<circle cx="88.7" cy="351.7" r="2.35" fill="#000" stroke="none" stroke-width="0"/>
<circle cx="77.4" cy="354.0" r="2.15" fill="#fff" stroke="#000" stroke-width="0.9"/>
<circle cx="84.8" cy="354.0" r="2.35" fill="#000" stroke="none" stroke-width="0"/>
<circle cx="81.3" cy="357.1" r="2.35" fill="#000" stroke="none" stroke-width="0"/>
<circle cx="88.2" cy="357.9" r="2.35" fill="#000" stroke="none" stroke-width="0"/>
<circle cx="85.1" cy="360.2" r="2.15" fill="#fff" stroke="#000" stroke-width="0.9"/>
<circle cx="81.3" cy="378.7" r="2.35" fill="#000" stroke="none" stroke-width="0"/>
<circle cx="85.4" cy="378.7" r="2.15" fill="#fff" stroke="#000" stroke-width="0.9"/>
<circle cx="82.8" cy="387.5" r="2.15" fill="#fff" stroke="#000" stroke-width="0.9"/>
<circle cx="107.0" cy="298.5" r="2.15" fill="#fff" stroke="#000" stroke-width="0.9"/>
<circle cx="110.1" cy="316.5" r="2.35" fill="#000" stroke="none" stroke-width="0"/>
<circle cx="106.7" cy="320.9" r="2.35" fill="#000" stroke="none" stroke-width="0"/>
<circle cx="101.6" cy="327.3" r="2.15" fill="#fff" stroke="#000" stroke-width="0.9"/>
<circle cx="104.4" cy="329.8" r="2.15" fill="#fff" stroke="#000" stroke-width="0.9"/>
<circle cx="107.5" cy="328.3" r="2.35" fill="#000" stroke="none" stroke-width="0"/>
<circle cx="110.6" cy="327.0" r="2.15" fill="#fff" stroke="#000" stroke-width="0.9"/>
<circle cx="113.7" cy="327.0" r="2.15" fill="#fff" stroke="#000" stroke-width="0.9"/>
<circle cx="108.3" cy="331.4" r="2.35" fill="#000" stroke="none" stroke-width="0"/>
<circle cx="110.1" cy="342.2" r="2.35" fill="#000" stroke="none" stroke-width="0"/>
<circle cx="107.0" cy="345.2" r="2.15" fill="#fff" stroke="#000" stroke-width="0.9"/>
<circle cx="110.1" cy="349.0" r="2.15" fill="#fff" stroke="#000" stroke-width="0.9"/>
<circle cx="104.4" cy="352.5" r="2.35" fill="#000" stroke="none" stroke-width="0"/>
<circle cx="131.4" cy="303.1" r="2.35" fill="#000" stroke="none" stroke-width="0"/>
<circle cx="131.4" cy="310.8" r="2.35" fill="#000" stroke="none" stroke-width="0"/>
<circle cx="136.8" cy="316.5" r="2.35" fill="#000" stroke="none" stroke-width="0"/>
<circle cx="133.0" cy="318.5" r="2.15" fill="#fff" stroke="#000" stroke-width="0.9"/>
<circle cx="129.1" cy="320.9" r="2.35" fill="#000" stroke="none" stroke-width="0"/>
<circle cx="125.2" cy="324.3" r="2.15" fill="#fff" stroke="#000" stroke-width="0.9"/>
<circle cx="136.8" cy="324.0" r="2.35" fill="#000" stroke="none" stroke-width="0"/>
<circle cx="129.6" cy="327.8" r="2.15" fill="#fff" stroke="#000" stroke-width="0.9"/>
<circle cx="133.3" cy="327.8" r="2.15" fill="#fff" stroke="#000" stroke-width="0.9"/>
<circle cx="131.4" cy="334.8" r="2.35" fill="#000" stroke="none" stroke-width="0"/>
<circle cx="131.4" cy="352.5" r="2.15" fill="#fff" stroke="#000" stroke-width="0.9"/>
<circle cx="131.4" cy="360.2" r="2.15" fill="#fff" stroke="#000" stroke-width="0.9"/>
<circle cx="131.4" cy="376.4" r="2.35" fill="#000" stroke="none" stroke-width="0"/>
<path d="M54.8 360.8H63.2M59.0 360.8V367.5M54.8 367.5H63.2" stroke="#000" stroke-width="1.2" fill="none" />
<path d="M79.0 355.5H87.4M83.2 355.5V363.5M79.0 363.5H87.4" stroke="#000" stroke-width="1.2" fill="none" />
<path d="M103.4 327.5H111.8M107.6 327.5V334.5M103.4 334.5H111.8" stroke="#000" stroke-width="1.2" fill="none" />
<path d="M127.2 326.0H135.6M131.4 326.0V336.0M127.2 336.0H135.6" stroke="#000" stroke-width="1.2" fill="none" />
<path d="M58.6 266.5V271.7M58.6 269.1H131.0M131.0 266.5V271.7" stroke="#000" stroke-width="1.3" fill="none" />
<text x="77.7" y="265.4" font-size="9.1" stroke="#000" stroke-width="0.22"><tspan font-style="italic">P</tspan>=8x10<tspan font-size="6.8" dy="-2.6">-5</tspan></text>
<path d="M58.6 282.6V287.8M58.6 285.2H105.2M105.2 282.6V287.8" stroke="#000" stroke-width="1.3" fill="none" />
<text x="62.0" y="282.0" font-size="9.1" stroke="#000" stroke-width="0.22"><tspan font-style="italic">P</tspan>=2x10<tspan font-size="6.8" dy="-2.6">-6</tspan></text>
<path d="M107.5 282.6V287.8M107.5 285.2H135.5M135.5 282.6V287.8" stroke="#000" stroke-width="1.3" fill="none" />
<text x="107.2" y="281.6" font-size="9.1" stroke="#000" stroke-width="0.22"><tspan font-style="italic">P</tspan>=0.99</text>
<path d="M58.6 299.0V304.2M58.6 301.6H86.1M86.1 299.0V304.2" stroke="#000" stroke-width="1.3" fill="none" />
<text x="57.8" y="296.4" font-size="9.1" stroke="#000" stroke-width="0.22"><tspan font-style="italic">P</tspan>=0.37</text>
<text x="18.6" y="333.0" font-size="11" text-anchor="middle" transform="rotate(-90 18.6 333.0)" stroke="#000" stroke-width="0.22">Plasma glutamine levels (µM)</text>
<text x="19.5" y="428.4" font-size="10" stroke="#000" stroke-width="0.22">BM</text>
<line x1="35.5" y1="426.1" x2="40.2" y2="426.1" stroke="#000" stroke-width="1.3" />
<path d="M43.7 426.1L39.7 423.8L40.7 426.1L39.7 428.4Z" fill="#000"/>
<line x1="50.9" y1="418.6" x2="90.6" y2="418.6" stroke="#000" stroke-width="1.1" />
<line x1="99.8" y1="418.6" x2="139.6" y2="418.6" stroke="#000" stroke-width="1.1" />
<text x="58.6" y="428.6" font-size="10" font-style="italic" stroke="#000" stroke-width="0.22">Ldlr<tspan font-size="6.2" dy="-3.3">-/-</tspan></text>
<text x="95.0" y="428.6" font-size="10" font-style="italic" stroke="#000" stroke-width="0.22">Ldlr<tspan font-size="6.2" dy="-3.3">-/-</tspan><tspan dy="3.3">Gls2</tspan><tspan font-size="6.2" dy="-3.3">-/-</tspan></text>
<rect x="197.8" y="353.1" width="14.0" height="60.7" fill="#fff" stroke="#000" stroke-width="1.2"/>
<rect x="221.9" y="351.1" width="14.2" height="62.7" fill="#c3c3c3" stroke="#000" stroke-width="1.2"/>
<rect x="245.7" y="354.2" width="14.0" height="59.6" fill="#fff" stroke="#000" stroke-width="1.2"/>
<rect x="270.0" y="359.4" width="14.0" height="54.4" fill="#c3c3c3" stroke="#000" stroke-width="1.2"/>
<line x1="193.4" y1="254.4" x2="193.4" y2="414.5" stroke="#000" stroke-width="1.4" />
<line x1="192.7" y1="413.8" x2="289.0" y2="413.8" stroke="#000" stroke-width="1.4" />
<line x1="190.4" y1="413.8" x2="193.4" y2="413.8" stroke="#000" stroke-width="1.1" />
<text x="188.7" y="416.7" font-size="8.2" text-anchor="end" stroke="#000" stroke-width="0.22">0</text>
<line x1="190.4" y1="374.1" x2="193.4" y2="374.1" stroke="#000" stroke-width="1.1" />
<text x="188.7" y="377.0" font-size="8.2" text-anchor="end" stroke="#000" stroke-width="0.22">100</text>
<line x1="190.4" y1="334.4" x2="193.4" y2="334.4" stroke="#000" stroke-width="1.1" />
<text x="188.7" y="337.3" font-size="8.2" text-anchor="end" stroke="#000" stroke-width="0.22">200</text>
<line x1="190.4" y1="294.7" x2="193.4" y2="294.7" stroke="#000" stroke-width="1.1" />
<text x="188.7" y="297.6" font-size="8.2" text-anchor="end" stroke="#000" stroke-width="0.22">300</text>
<line x1="190.4" y1="255.0" x2="193.4" y2="255.0" stroke="#000" stroke-width="1.1" />
<text x="188.7" y="257.9" font-size="8.2" text-anchor="end" stroke="#000" stroke-width="0.22">400</text>
<circle cx="205.1" cy="278.0" r="2.35" fill="#000" stroke="none" stroke-width="0"/>
<circle cx="207.1" cy="315.8" r="2.35" fill="#000" stroke="none" stroke-width="0"/>
<circle cx="203.0" cy="318.2" r="2.15" fill="#fff" stroke="#000" stroke-width="0.9"/>
<circle cx="199.0" cy="353.3" r="2.15" fill="#fff" stroke="#000" stroke-width="0.9"/>
<circle cx="203.0" cy="353.3" r="2.15" fill="#fff" stroke="#000" stroke-width="0.9"/>
<circle cx="207.1" cy="357.3" r="2.15" fill="#fff" stroke="#000" stroke-width="0.9"/>
<circle cx="210.5" cy="355.3" r="2.35" fill="#000" stroke="none" stroke-width="0"/>
<circle cx="205.1" cy="365.0" r="2.35" fill="#000" stroke="none" stroke-width="0"/>
<circle cx="199.0" cy="372.4" r="2.15" fill="#fff" stroke="#000" stroke-width="0.9"/>
<circle cx="203.0" cy="374.4" r="2.35" fill="#000" stroke="none" stroke-width="0"/>
<circle cx="207.1" cy="373.8" r="2.15" fill="#fff" stroke="#000" stroke-width="0.9"/>
<circle cx="207.1" cy="383.0" r="2.15" fill="#fff" stroke="#000" stroke-width="0.9"/>
<circle cx="203.0" cy="387.5" r="2.35" fill="#000" stroke="none" stroke-width="0"/>
<circle cx="229.1" cy="296.5" r="2.35" fill="#000" stroke="none" stroke-width="0"/>
<circle cx="229.1" cy="309.2" r="2.15" fill="#fff" stroke="#000" stroke-width="0.9"/>
<circle cx="229.1" cy="315.2" r="2.35" fill="#000" stroke="none" stroke-width="0"/>
<circle cx="229.1" cy="329.8" r="2.15" fill="#fff" stroke="#000" stroke-width="0.9"/>
<circle cx="229.1" cy="347.3" r="2.35" fill="#000" stroke="none" stroke-width="0"/>
<circle cx="224.1" cy="358.4" r="2.15" fill="#fff" stroke="#000" stroke-width="0.9"/>
<circle cx="229.1" cy="358.4" r="2.15" fill="#fff" stroke="#000" stroke-width="0.9"/>
<circle cx="234.6" cy="358.4" r="2.35" fill="#000" stroke="none" stroke-width="0"/>
<circle cx="229.1" cy="370.4" r="2.15" fill="#fff" stroke="#000" stroke-width="0.9"/>
<circle cx="224.1" cy="372.8" r="2.35" fill="#000" stroke="none" stroke-width="0"/>
<circle cx="234.6" cy="376.4" r="2.15" fill="#fff" stroke="#000" stroke-width="0.9"/>
<circle cx="229.1" cy="379.4" r="2.35" fill="#000" stroke="none" stroke-width="0"/>
<circle cx="229.1" cy="385.5" r="2.35" fill="#000" stroke="none" stroke-width="0"/>
<circle cx="255.9" cy="328.2" r="2.15" fill="#fff" stroke="#000" stroke-width="0.9"/>
<circle cx="250.2" cy="329.8" r="2.35" fill="#000" stroke="none" stroke-width="0"/>
<circle cx="247.8" cy="340.7" r="2.35" fill="#000" stroke="none" stroke-width="0"/>
<circle cx="253.2" cy="341.9" r="2.15" fill="#fff" stroke="#000" stroke-width="0.9"/>
<circle cx="258.7" cy="339.7" r="2.35" fill="#000" stroke="none" stroke-width="0"/>
<circle cx="247.8" cy="346.3" r="2.15" fill="#fff" stroke="#000" stroke-width="0.9"/>
<circle cx="253.2" cy="353.9" r="2.15" fill="#fff" stroke="#000" stroke-width="0.9"/>
<circle cx="247.8" cy="361.8" r="2.35" fill="#000" stroke="none" stroke-width="0"/>
<circle cx="258.7" cy="360.8" r="2.35" fill="#000" stroke="none" stroke-width="0"/>
<circle cx="258.7" cy="366.0" r="2.35" fill="#000" stroke="none" stroke-width="0"/>
<circle cx="253.2" cy="374.8" r="2.15" fill="#fff" stroke="#000" stroke-width="0.9"/>
<circle cx="258.7" cy="376.0" r="2.15" fill="#fff" stroke="#000" stroke-width="0.9"/>
<circle cx="247.8" cy="380.4" r="2.15" fill="#fff" stroke="#000" stroke-width="0.9"/>
<circle cx="275.3" cy="318.2" r="2.35" fill="#000" stroke="none" stroke-width="0"/>
<circle cx="279.3" cy="317.2" r="2.15" fill="#fff" stroke="#000" stroke-width="0.9"/>
<circle cx="277.3" cy="328.6" r="2.35" fill="#000" stroke="none" stroke-width="0"/>
<circle cx="275.3" cy="340.7" r="2.35" fill="#000" stroke="none" stroke-width="0"/>
<circle cx="279.3" cy="340.7" r="2.35" fill="#000" stroke="none" stroke-width="0"/>
<circle cx="279.3" cy="363.8" r="2.15" fill="#fff" stroke="#000" stroke-width="0.9"/>
<circle cx="275.3" cy="368.0" r="2.35" fill="#000" stroke="none" stroke-width="0"/>
<circle cx="279.3" cy="369.0" r="2.15" fill="#fff" stroke="#000" stroke-width="0.9"/>
<circle cx="277.3" cy="374.4" r="2.15" fill="#fff" stroke="#000" stroke-width="0.9"/>
<circle cx="279.7" cy="380.0" r="2.35" fill="#000" stroke="none" stroke-width="0"/>
<circle cx="271.9" cy="388.5" r="2.35" fill="#000" stroke="none" stroke-width="0"/>
<circle cx="275.3" cy="386.9" r="2.15" fill="#fff" stroke="#000" stroke-width="0.9"/>
<circle cx="279.0" cy="386.9" r="2.15" fill="#fff" stroke="#000" stroke-width="0.9"/>
<circle cx="282.8" cy="386.5" r="2.35" fill="#000" stroke="none" stroke-width="0"/>
<path d="M200.8 344.2H209.2M205.0 344.2V361.3M200.8 361.3H209.2" stroke="#000" stroke-width="1.2" fill="none" />
<path d="M225.0 342.6H233.4M229.2 342.6V360.0M225.0 360.0H233.4" stroke="#000" stroke-width="1.2" fill="none" />
<path d="M248.7 348.9H257.1M252.9 348.9V359.0M248.7 359.0H257.1" stroke="#000" stroke-width="1.2" fill="none" />
<path d="M273.0 351.9H281.4M277.2 351.9V367.0M273.0 367.0H281.4" stroke="#000" stroke-width="1.2" fill="none" />
<path d="M204.2 237.6V242.8M204.2 240.2H276.2M276.2 237.6V242.8" stroke="#000" stroke-width="1.3" fill="none" />
<text x="227.0" y="235.5" font-size="9.1" stroke="#000" stroke-width="0.22"><tspan font-style="italic">P</tspan>=0.58</text>
<path d="M204.2 250.0V255.2M204.2 252.6H251.0M251.0 250.0V255.2" stroke="#000" stroke-width="1.3" fill="none" />
<text x="213.0" y="248.4" font-size="9.1" stroke="#000" stroke-width="0.22"><tspan font-style="italic">P</tspan>=0.92</text>
<path d="M203.7 266.1V271.3M203.7 268.7H232.2M232.2 266.1V271.3" stroke="#000" stroke-width="1.3" fill="none" />
<text x="204.2" y="263.0" font-size="9.1" stroke="#000" stroke-width="0.22"><tspan font-style="italic">P</tspan>=0.85</text>
<path d="M252.8 266.1V271.3M252.8 268.7H281.3M281.3 266.1V271.3" stroke="#000" stroke-width="1.3" fill="none" />
<text x="253.5" y="263.0" font-size="9.1" stroke="#000" stroke-width="0.22"><tspan font-style="italic">P</tspan>=0.55</text>
<text x="168.7" y="333.0" font-size="11" text-anchor="middle" transform="rotate(-90 168.7 333.0)" stroke="#000" stroke-width="0.22">Plasma glutamate levels (µM)</text>
<text x="171.0" y="428.4" font-size="10" stroke="#000" stroke-width="0.22">BM</text>
<line x1="187.0" y1="426.1" x2="191.7" y2="426.1" stroke="#000" stroke-width="1.3" />
<path d="M195.2 426.1L191.2 423.8L192.2 426.1L191.2 428.4Z" fill="#000"/>
<line x1="197.4" y1="418.5" x2="237.1" y2="418.5" stroke="#000" stroke-width="1.1" />
<line x1="245.3" y1="418.5" x2="285.0" y2="418.5" stroke="#000" stroke-width="1.1" />
<text x="204.9" y="428.6" font-size="10" font-style="italic" stroke="#000" stroke-width="0.22">Ldlr<tspan font-size="6.2" dy="-3.3">-/-</tspan></text>
<text x="240.7" y="428.6" font-size="10" font-style="italic" stroke="#000" stroke-width="0.22">Ldlr<tspan font-size="6.2" dy="-3.3">-/-</tspan><tspan dy="3.3">Gls2</tspan><tspan font-size="6.2" dy="-3.3">-/-</tspan></text>
<rect x="334.7" y="374.6" width="14.0" height="39.4" fill="#fff" stroke="#000" stroke-width="1.2"/>
<rect x="358.8" y="372.2" width="14.0" height="41.8" fill="#c3c3c3" stroke="#000" stroke-width="1.2"/>
<rect x="382.6" y="355.9" width="14.3" height="58.1" fill="#fff" stroke="#000" stroke-width="1.2"/>
<rect x="406.7" y="343.2" width="14.0" height="70.8" fill="#c3c3c3" stroke="#000" stroke-width="1.2"/>
<line x1="330.0" y1="253.8" x2="330.0" y2="414.7" stroke="#000" stroke-width="1.4" />
<line x1="329.3" y1="414.0" x2="426.2" y2="414.0" stroke="#000" stroke-width="1.4" />
<line x1="327.0" y1="414.0" x2="330.0" y2="414.0" stroke="#000" stroke-width="1.1" />
<text x="325.3" y="416.9" font-size="8.2" text-anchor="end" stroke="#000" stroke-width="0.22">0</text>
<line x1="327.0" y1="360.8" x2="330.0" y2="360.8" stroke="#000" stroke-width="1.1" />
<text x="325.3" y="363.7" font-size="8.2" text-anchor="end" stroke="#000" stroke-width="0.22">5</text>
<line x1="327.0" y1="307.6" x2="330.0" y2="307.6" stroke="#000" stroke-width="1.1" />
<text x="325.3" y="310.5" font-size="8.2" text-anchor="end" stroke="#000" stroke-width="0.22">10</text>
<line x1="327.0" y1="254.4" x2="330.0" y2="254.4" stroke="#000" stroke-width="1.1" />
<text x="325.3" y="257.3" font-size="8.2" text-anchor="end" stroke="#000" stroke-width="0.22">15</text>
<circle cx="341.7" cy="330.9" r="2.35" fill="#000" stroke="none" stroke-width="0"/>
<circle cx="342.0" cy="340.9" r="2.15" fill="#fff" stroke="#000" stroke-width="0.9"/>
<circle cx="339.9" cy="354.6" r="2.35" fill="#000" stroke="none" stroke-width="0"/>
<circle cx="343.9" cy="354.7" r="2.15" fill="#fff" stroke="#000" stroke-width="0.9"/>
<circle cx="336.1" cy="375.5" r="2.15" fill="#fff" stroke="#000" stroke-width="0.9"/>
<circle cx="343.1" cy="374.7" r="2.35" fill="#000" stroke="none" stroke-width="0"/>
<circle cx="339.9" cy="378.4" r="2.15" fill="#fff" stroke="#000" stroke-width="0.9"/>
<circle cx="336.1" cy="391.5" r="2.35" fill="#000" stroke="none" stroke-width="0"/>
<circle cx="339.9" cy="394.0" r="2.15" fill="#fff" stroke="#000" stroke-width="0.9"/>
<circle cx="343.9" cy="394.0" r="2.35" fill="#000" stroke="none" stroke-width="0"/>
<circle cx="347.5" cy="392.7" r="2.15" fill="#fff" stroke="#000" stroke-width="0.9"/>
<circle cx="341.6" cy="403.8" r="2.35" fill="#000" stroke="none" stroke-width="0"/>
<circle cx="366.1" cy="329.2" r="2.35" fill="#000" stroke="none" stroke-width="0"/>
<circle cx="366.1" cy="340.9" r="2.35" fill="#000" stroke="none" stroke-width="0"/>
<circle cx="363.3" cy="351.4" r="2.15" fill="#fff" stroke="#000" stroke-width="0.9"/>
<circle cx="368.7" cy="354.7" r="2.15" fill="#fff" stroke="#000" stroke-width="0.9"/>
<circle cx="366.1" cy="359.7" r="2.35" fill="#000" stroke="none" stroke-width="0"/>
<circle cx="366.1" cy="367.4" r="2.15" fill="#fff" stroke="#000" stroke-width="0.9"/>
<circle cx="366.1" cy="375.5" r="2.15" fill="#fff" stroke="#000" stroke-width="0.9"/>
<circle cx="366.1" cy="381.3" r="2.35" fill="#000" stroke="none" stroke-width="0"/>
<circle cx="360.2" cy="389.8" r="2.35" fill="#000" stroke="none" stroke-width="0"/>
<circle cx="366.1" cy="391.1" r="2.35" fill="#000" stroke="none" stroke-width="0"/>
<circle cx="371.6" cy="389.8" r="2.35" fill="#000" stroke="none" stroke-width="0"/>
<circle cx="366.1" cy="397.4" r="2.15" fill="#fff" stroke="#000" stroke-width="0.9"/>
<circle cx="366.1" cy="404.5" r="2.15" fill="#fff" stroke="#000" stroke-width="0.9"/>
<circle cx="390.4" cy="313.3" r="2.15" fill="#fff" stroke="#000" stroke-width="0.9"/>
<circle cx="390.1" cy="329.0" r="2.15" fill="#fff" stroke="#000" stroke-width="0.9"/>
<circle cx="390.1" cy="342.9" r="2.15" fill="#fff" stroke="#000" stroke-width="0.9"/>
<circle cx="384.5" cy="347.3" r="2.15" fill="#fff" stroke="#000" stroke-width="0.9"/>
<circle cx="395.7" cy="348.0" r="2.35" fill="#000" stroke="none" stroke-width="0"/>
<circle cx="390.1" cy="350.4" r="2.35" fill="#000" stroke="none" stroke-width="0"/>
<circle cx="384.5" cy="362.3" r="2.35" fill="#000" stroke="none" stroke-width="0"/>
<circle cx="390.1" cy="365.3" r="2.35" fill="#000" stroke="none" stroke-width="0"/>
<circle cx="395.7" cy="366.7" r="2.15" fill="#fff" stroke="#000" stroke-width="0.9"/>
<circle cx="384.5" cy="368.5" r="2.35" fill="#000" stroke="none" stroke-width="0"/>
<circle cx="395.7" cy="371.4" r="2.15" fill="#fff" stroke="#000" stroke-width="0.9"/>
<circle cx="390.1" cy="375.2" r="2.15" fill="#fff" stroke="#000" stroke-width="0.9"/>
<circle cx="390.1" cy="380.1" r="2.35" fill="#000" stroke="none" stroke-width="0"/>
<circle cx="414.0" cy="275.9" r="2.15" fill="#fff" stroke="#000" stroke-width="0.9"/>
<circle cx="414.0" cy="281.8" r="2.35" fill="#000" stroke="none" stroke-width="0"/>
<circle cx="414.4" cy="318.8" r="2.35" fill="#000" stroke="none" stroke-width="0"/>
<circle cx="414.4" cy="324.7" r="2.15" fill="#fff" stroke="#000" stroke-width="0.9"/>
<circle cx="412.2" cy="338.2" r="2.15" fill="#fff" stroke="#000" stroke-width="0.9"/>
<circle cx="416.1" cy="338.5" r="2.15" fill="#fff" stroke="#000" stroke-width="0.9"/>
<circle cx="416.1" cy="358.2" r="2.35" fill="#000" stroke="none" stroke-width="0"/>
<circle cx="412.5" cy="362.3" r="2.35" fill="#000" stroke="none" stroke-width="0"/>
<circle cx="408.8" cy="366.4" r="2.15" fill="#fff" stroke="#000" stroke-width="0.9"/>
<circle cx="416.1" cy="366.7" r="2.35" fill="#000" stroke="none" stroke-width="0"/>
<circle cx="419.8" cy="365.5" r="2.35" fill="#000" stroke="none" stroke-width="0"/>
<circle cx="416.4" cy="379.1" r="2.15" fill="#fff" stroke="#000" stroke-width="0.9"/>
<circle cx="412.5" cy="381.3" r="2.35" fill="#000" stroke="none" stroke-width="0"/>
<path d="M337.7 367.6H346.1M341.9 367.6V381.1M337.7 381.1H346.1" stroke="#000" stroke-width="1.2" fill="none" />
<path d="M361.8 365.2H370.2M366.0 365.2V378.8M361.8 378.8H370.2" stroke="#000" stroke-width="1.2" fill="none" />
<path d="M385.8 350.7H394.1M389.9 350.7V361.3M385.8 361.3H394.1" stroke="#000" stroke-width="1.2" fill="none" />
<path d="M409.7 333.2H418.1M413.9 333.2V352.6M409.7 352.6H418.1" stroke="#000" stroke-width="1.2" fill="none" />
<path d="M340.2 247.6V252.8M340.2 250.2H413.3M413.3 247.6V252.8" stroke="#000" stroke-width="1.3" fill="none" />
<text x="364.3" y="246.5" font-size="9.1" stroke="#000" stroke-width="0.22"><tspan font-style="italic">P</tspan>=0.01</text>
<path d="M340.2 263.3V268.5M340.2 265.9H386.9M386.9 263.3V268.5" stroke="#000" stroke-width="1.3" fill="none" />
<text x="349.0" y="261.7" font-size="9.1" stroke="#000" stroke-width="0.22"><tspan font-style="italic">P</tspan>=0.03</text>
<path d="M389.2 263.3V268.5M389.2 265.9H417.5M417.5 263.3V268.5" stroke="#000" stroke-width="1.3" fill="none" />
<text x="389.5" y="260.5" font-size="9.1" stroke="#000" stroke-width="0.22"><tspan font-style="italic">P</tspan>=0.26</text>
<path d="M339.3 279.2V284.4M339.3 281.8H368.2M368.2 279.2V284.4" stroke="#000" stroke-width="1.3" fill="none" />
<text x="339.7" y="276.4" font-size="9.1" stroke="#000" stroke-width="0.22"><tspan font-style="italic">P</tspan>=0.81</text>
<text x="311.7" y="333.2" font-size="11" text-anchor="middle" transform="rotate(-90 311.7 333.2)" stroke="#000" stroke-width="0.22">Plasma Gln/Glu ratio</text>
<text x="309.0" y="428.4" font-size="10" stroke="#000" stroke-width="0.22">BM</text>
<line x1="325.0" y1="426.1" x2="329.7" y2="426.1" stroke="#000" stroke-width="1.3" />
<path d="M333.2 426.1L329.2 423.8L330.2 426.1L329.2 428.4Z" fill="#000"/>
<line x1="333.3" y1="418.5" x2="373.0" y2="418.5" stroke="#000" stroke-width="1.1" />
<line x1="382.2" y1="418.5" x2="421.5" y2="418.5" stroke="#000" stroke-width="1.1" />
<text x="340.5" y="428.6" font-size="10" font-style="italic" stroke="#000" stroke-width="0.22">Ldlr<tspan font-size="6.2" dy="-3.3">-/-</tspan></text>
<text x="377.1" y="428.6" font-size="10" font-style="italic" stroke="#000" stroke-width="0.22">Ldlr<tspan font-size="6.2" dy="-3.3">-/-</tspan><tspan dy="3.3">Gls2</tspan><tspan font-size="6.2" dy="-3.3">-/-</tspan></text>
<text x="9.5" y="453.2" font-size="13.5" font-weight="bold" stroke="#000" stroke-width="0.22">d</text>
<text x="30.0" y="470.6" font-size="10" font-style="italic" stroke="#000" stroke-width="0.22">Ldlr<tspan font-size="6.2" dy="-3.3">-/-</tspan></text>
<line x1="22.2" y1="475.2" x2="61.9" y2="475.2" stroke="#000" stroke-width="1.1" />
<text x="65.9" y="470.6" font-size="10" font-style="italic" stroke="#000" stroke-width="0.22">Ldlr<tspan font-size="6.2" dy="-3.3">-/-</tspan><tspan dy="3.3">Gls2</tspan><tspan font-size="6.2" dy="-3.3">-/-</tspan></text>
<line x1="71.5" y1="475.2" x2="111.4" y2="475.2" stroke="#000" stroke-width="1.1" />
<circle cx="38.3" cy="485.8" r="5.1" fill="url(#bg)" stroke="#1f6790" stroke-width="1.1"/>
<ellipse cx="36.9" cy="483.9" rx="2.1" ry="1.3" fill="#fff" opacity="0.45" transform="rotate(-30 36.9 483.9)"/>
<circle cx="49.0" cy="499.6" r="5.1" fill="url(#bg)" stroke="#1f6790" stroke-width="1.1"/>
<ellipse cx="47.6" cy="497.7" rx="2.1" ry="1.3" fill="#fff" opacity="0.45" transform="rotate(-30 47.6 497.7)"/>
<circle cx="78.1" cy="488.7" r="5.1" fill="url(#bg)" stroke="#1f6790" stroke-width="1.1"/>
<ellipse cx="76.7" cy="486.8" rx="2.1" ry="1.3" fill="#fff" opacity="0.45" transform="rotate(-30 76.7 486.8)"/>
<circle cx="93.7" cy="484.7" r="5.1" fill="url(#bg)" stroke="#1f6790" stroke-width="1.1"/>
<ellipse cx="92.3" cy="482.8" rx="2.1" ry="1.3" fill="#fff" opacity="0.45" transform="rotate(-30 92.3 482.8)"/>
<circle cx="88.1" cy="502.7" r="5.1" fill="url(#bg)" stroke="#1f6790" stroke-width="1.1"/>
<ellipse cx="86.7" cy="500.8" rx="2.1" ry="1.3" fill="#fff" opacity="0.45" transform="rotate(-30 86.7 500.8)"/>
<circle cx="104.6" cy="498.4" r="5.1" fill="url(#bg)" stroke="#1f6790" stroke-width="1.1"/>
<ellipse cx="103.2" cy="496.5" rx="2.1" ry="1.3" fill="#fff" opacity="0.45" transform="rotate(-30 103.2 496.5)"/>
<path d="M65.0 515.2C67.2 515.0 72.7 515.1 75.8 515.4C78.9 515.7 83.5 516.7 86.6 517.6C89.7 518.5 94.7 520.5 97.4 521.9C100.1 523.3 103.9 525.5 106.0 527.3C108.1 529.1 111.0 532.5 112.5 534.8C114.0 537.1 115.8 541.0 116.9 543.5C118.0 546.0 119.2 550.3 120.1 552.1C121.0 553.9 122.4 555.5 123.3 555.9C124.2 556.3 125.9 555.1 126.6 555.2C127.3 555.3 128.4 556.3 128.4 556.8C128.4 557.3 127.6 558.5 126.8 559.0C126.0 559.5 123.3 559.5 122.5 560.2C121.7 560.9 121.4 562.5 121.2 564.0C121.0 565.5 121.2 569.2 121.2 570.5C121.2 571.8 120.9 572.7 121.5 573.5C122.1 574.3 124.4 575.7 125.5 576.3C126.6 576.9 129.1 577.2 129.6 577.8C130.1 578.4 129.7 580.0 129.0 580.3C128.3 580.6 126.1 580.3 125.0 580.2C123.9 580.1 121.8 578.9 121.0 579.4C120.2 579.9 119.7 582.0 119.0 584.0C118.3 586.0 116.9 591.0 115.8 593.8C114.7 596.6 112.5 601.4 111.5 603.5C110.5 605.6 108.7 607.4 108.8 608.9C108.9 610.4 111.5 612.8 112.3 614.0C113.1 615.2 114.7 616.5 114.8 617.3C114.9 618.1 113.4 619.7 112.7 619.5C112.0 619.3 110.7 617.2 109.8 616.0C108.9 614.8 107.9 611.1 106.6 611.0C105.3 610.9 102.8 614.4 100.6 615.4C98.4 616.4 93.6 617.6 90.9 618.1C88.2 618.6 83.5 618.9 81.2 619.2C78.9 619.5 76.0 619.7 74.7 620.2C73.4 620.7 72.4 621.9 72.2 623.0C72.0 624.1 72.8 627.1 73.1 628.3C73.4 629.5 74.7 630.9 74.5 631.6C74.3 632.3 72.4 633.4 71.5 633.2C70.6 633.0 69.0 631.9 68.3 630.5C67.6 629.1 67.3 624.9 66.5 623.0C65.7 621.1 63.8 618.0 62.7 616.8C61.6 615.6 59.8 614.5 58.9 614.8C58.0 615.1 56.9 617.9 56.2 618.6C55.5 619.3 54.4 619.8 54.0 619.6C53.6 619.4 53.2 618.1 53.3 617.3C53.4 616.5 54.8 615.0 54.6 614.3C54.4 613.6 53.2 612.9 51.9 612.1C50.6 611.3 47.7 610.0 45.4 608.9C43.1 607.8 38.2 606.1 35.6 604.6C33.0 603.1 29.1 600.3 27.0 598.1C24.9 595.9 22.0 592.2 20.5 589.4C19.0 586.6 17.1 581.3 16.2 578.6C15.3 575.9 14.6 571.8 14.3 570.0C14.0 568.2 14.0 567.3 14.0 566.2C14.0 565.1 15.1 562.9 14.0 562.3C12.9 561.7 7.2 562.1 5.9 561.8C4.6 561.5 4.9 560.7 4.9 560.2C4.9 559.7 4.5 558.8 5.9 558.5C7.3 558.2 13.1 558.9 14.6 558.1C16.1 557.3 15.6 555.0 16.2 553.2C16.8 551.4 18.4 547.2 18.9 545.6C19.4 544.0 20.8 542.9 19.6 542.0C18.4 541.1 11.9 540.1 10.5 539.6C9.1 539.1 9.6 538.6 9.6 538.3C9.6 538.0 8.9 537.3 10.8 537.3C12.7 537.3 20.9 538.6 23.2 538.3C25.5 538.0 25.4 536.7 27.0 535.4C28.6 534.1 32.3 530.5 34.6 528.9C36.9 527.3 40.7 525.3 43.2 524.0C45.7 522.7 49.4 520.8 51.9 519.7C54.4 518.6 58.6 517.1 60.5 516.5C62.4 515.9 62.8 515.4 65.0 515.2Z" fill="#c5e1bf" stroke="#44543f" stroke-width="1"/>
<path d="M72.6 523.6 C80 522.6 92 525.5 98 530.6 C101.5 533.5 104 536.6 105.6 539.3 C102.5 536 99.5 533.6 96.5 531.8 C90 527.6 80 524.6 72.6 523.6Z" fill="#fff" stroke="#fff" stroke-width="0.5" opacity="0.95"/>
<circle cx="64.3" cy="598.9" r="14.1" fill="#c2cdba" stroke="#8a9587" stroke-width="1"/>
<circle cx="65.1" cy="528.8" r="6.7" fill="url(#bg)" stroke="#1f6790" stroke-width="1.1"/>
<ellipse cx="63.2" cy="526.3" rx="2.8" ry="1.7" fill="#fff" opacity="0.45" transform="rotate(-30 63.2 526.3)"/>
<text x="40.5" y="531.3" font-size="9.7" stroke="#000" stroke-width="0.22">Gln</text>
<text x="36.5" y="546.2" font-size="8.6" font-style="italic" stroke="#000" stroke-width="0.22">GLS1</text>
<line x1="63.2" y1="538.6" x2="63.2" y2="545.3" stroke="#000" stroke-width="1.7" />
<path d="M63.2 552.1L59.5 544.3L66.9 544.3Z" fill="#000"/>
<text x="55.6" y="561.2" font-size="9.7" stroke="#000" stroke-width="0.22">Glu</text>
<line x1="72.0" y1="558.6" x2="76.6" y2="558.6" stroke="#000" stroke-width="1.4" />
<path d="M82.1 558.6L76.1 556.3L77.1 558.6L76.1 560.9Z" fill="#000"/>
<text x="86.6" y="561.5" font-size="9.9" stroke="#000" stroke-width="0.22">Pro</text>
<line x1="63.2" y1="563.5" x2="63.2" y2="569.1" stroke="#000" stroke-width="1.7" />
<path d="M63.2 575.9L59.5 568.1L66.9 568.1Z" fill="#000"/>
<text x="52.7" y="584.0" font-size="10" stroke="#000" stroke-width="0.22">Succ</text>
<text x="53.6" y="602.4" font-size="11" stroke="#000" stroke-width="0.22">TCA</text>
<line x1="79.6" y1="591.4" x2="83.8" y2="591.4" stroke="#000" stroke-width="1.4" />
<path d="M89.3 591.4L83.3 589.1L84.3 591.4L83.3 593.7Z" fill="#000"/>
<text x="91.4" y="594.7" font-size="9.8" stroke="#000" stroke-width="0.22">Asp</text>
<path d="M69.3 607.3 C69.8 610 71 612.2 74.5 613" stroke="#000" stroke-width="1.3" fill="none" />
<path d="M79.6 613.3L73.2 610.9L74.4 613.2L73 615.5Z" fill="#000"/>
<text x="81.7" y="615.6" font-size="9.9" stroke="#000" stroke-width="0.22">ATP</text>
<rect x="163.0" y="452.2" width="8.2" height="5.9" fill="#fff" stroke="#000" stroke-width="0.9"/>
<text x="172.7" y="458.1" font-size="9.7" stroke="#000" stroke-width="0.22">Ctl BM</text>
<rect x="206.8" y="452.2" width="8.2" height="5.9" fill="#c3c3c3" stroke="#000" stroke-width="0.9"/>
<text x="216.0" y="458.1" font-size="9.8" stroke="#000" stroke-width="0.22">Mye<tspan font-size="6.7" dy="-3.1">ΔGls1</tspan><tspan dy="3.1">BM</tspan></text>
<rect x="166.1" y="577.5" width="15.0" height="52.6" fill="#fff" stroke="#000" stroke-width="1.2"/>
<rect x="190.6" y="607.3" width="14.6" height="22.8" fill="#c3c3c3" stroke="#000" stroke-width="1.2"/>
<rect x="214.7" y="536.7" width="14.8" height="93.4" fill="#fff" stroke="#000" stroke-width="1.2"/>
<rect x="238.8" y="607.6" width="14.8" height="22.5" fill="#c3c3c3" stroke="#000" stroke-width="1.2"/>
<line x1="161.7" y1="469.0" x2="161.7" y2="630.8" stroke="#000" stroke-width="1.4" />
<line x1="161.0" y1="630.1" x2="258.0" y2="630.1" stroke="#000" stroke-width="1.4" />
<line x1="158.7" y1="630.1" x2="161.7" y2="630.1" stroke="#000" stroke-width="1.1" />
<text x="157.0" y="633.0" font-size="8.6" text-anchor="end" stroke="#000" stroke-width="0.22">0</text>
<line x1="158.7" y1="598.0" x2="161.7" y2="598.0" stroke="#000" stroke-width="1.1" />
<text x="157.0" y="600.9" font-size="8.6" text-anchor="end" stroke="#000" stroke-width="0.22">5</text>
<line x1="158.7" y1="565.9" x2="161.7" y2="565.9" stroke="#000" stroke-width="1.1" />
<text x="157.0" y="568.8" font-size="8.6" text-anchor="end" stroke="#000" stroke-width="0.22">10</text>
<line x1="158.7" y1="533.8" x2="161.7" y2="533.8" stroke="#000" stroke-width="1.1" />
<text x="157.0" y="536.7" font-size="8.6" text-anchor="end" stroke="#000" stroke-width="0.22">15</text>
<line x1="158.7" y1="501.7" x2="161.7" y2="501.7" stroke="#000" stroke-width="1.1" />
<text x="157.0" y="504.6" font-size="8.6" text-anchor="end" stroke="#000" stroke-width="0.22">20</text>
<line x1="158.7" y1="469.6" x2="161.7" y2="469.6" stroke="#000" stroke-width="1.1" />
<text x="157.0" y="472.5" font-size="8.6" text-anchor="end" stroke="#000" stroke-width="0.22">25</text>
<circle cx="173.8" cy="558.3" r="2.3" fill="#fff" stroke="#000" stroke-width="1.3"/>
<circle cx="173.8" cy="579.6" r="2.3" fill="#fff" stroke="#000" stroke-width="1.3"/>
<circle cx="173.8" cy="592.7" r="2.3" fill="#fff" stroke="#000" stroke-width="1.3"/>
<circle cx="192.4" cy="602.8" r="2.3" fill="#fff" stroke="#000" stroke-width="1.3"/>
<circle cx="203.4" cy="605.4" r="2.3" fill="#fff" stroke="#000" stroke-width="1.3"/>
<circle cx="198.3" cy="610.2" r="2.3" fill="#fff" stroke="#000" stroke-width="1.3"/>
<circle cx="222.4" cy="504.2" r="2.3" fill="#fff" stroke="#000" stroke-width="1.3"/>
<circle cx="222.4" cy="548.0" r="2.3" fill="#fff" stroke="#000" stroke-width="1.3"/>
<circle cx="222.4" cy="555.0" r="2.3" fill="#fff" stroke="#000" stroke-width="1.3"/>
<circle cx="241.7" cy="606.5" r="2.3" fill="#fff" stroke="#000" stroke-width="1.3"/>
<circle cx="246.7" cy="603.6" r="2.3" fill="#fff" stroke="#000" stroke-width="1.3"/>
<circle cx="251.5" cy="606.5" r="2.3" fill="#fff" stroke="#000" stroke-width="1.3"/>
<path d="M169.4 566.6H178.2M173.8 566.6V587.4M169.4 587.4H178.2" stroke="#000" stroke-width="1.2" fill="none" />
<path d="M193.7 604.3H202.5M198.1 604.3V609.8M193.7 609.8H202.5" stroke="#000" stroke-width="1.2" fill="none" />
<path d="M217.9 520.0H226.7M222.3 520.0V552.4M217.9 552.4H226.7" stroke="#000" stroke-width="1.2" fill="none" />
<path d="M242.0 605.4H250.8M246.4 605.4V608.7M242.0 608.7H250.8" stroke="#000" stroke-width="1.2" fill="none" />
<text x="144.2" y="548.0" font-size="10.6" text-anchor="middle" transform="rotate(-90 144.2 548.0)" stroke="#000" stroke-width="0.22">Succinate (a.u)</text>
<path d="M172.0 472.0V477.2M172.0 474.6H245.0M245.0 472.0V477.2" stroke="#000" stroke-width="1.3" fill="none" />
<text x="195.7" y="470.7" font-size="9.1" stroke="#000" stroke-width="0.22"><tspan font-style="italic">P</tspan>=0.07</text>
<path d="M170.5 492.1V497.3M170.5 494.7H217.1M217.1 492.1V497.3" stroke="#000" stroke-width="1.3" fill="none" />
<text x="179.3" y="490.8" font-size="9.1" stroke="#000" stroke-width="0.22"><tspan font-style="italic">P</tspan>=0.02</text>
<path d="M220.4 491.0V496.2M220.4 493.6H249.8M249.8 491.0V496.2" stroke="#000" stroke-width="1.3" fill="none" />
<text x="218.7" y="488.6" font-size="9.1" stroke="#000" stroke-width="0.22"><tspan font-style="italic">P</tspan>=0.001</text>
<path d="M172.0 538.8V544.0M172.0 541.4H200.7M200.7 538.8V544.0" stroke="#000" stroke-width="1.3" fill="none" />
<text x="172.3" y="536.3" font-size="9.1" stroke="#000" stroke-width="0.22"><tspan font-style="italic">P</tspan>=0.07</text>
<text x="139.9" y="644.3" font-size="10" stroke="#000" stroke-width="0.22">BM</text>
<line x1="155.9" y1="642.0" x2="160.6" y2="642.0" stroke="#000" stroke-width="1.3" />
<path d="M164.1 642.0L160.1 639.7L161.1 642.0L160.1 644.3Z" fill="#000"/>
<line x1="164.1" y1="634.4" x2="203.8" y2="634.4" stroke="#000" stroke-width="1.1" />
<line x1="213.2" y1="634.4" x2="251.8" y2="634.4" stroke="#000" stroke-width="1.1" />
<text x="171.8" y="644.5" font-size="10" font-style="italic" stroke="#000" stroke-width="0.22">Ldlr<tspan font-size="6.2" dy="-3.3">-/-</tspan></text>
<text x="207.9" y="644.5" font-size="10" font-style="italic" stroke="#000" stroke-width="0.22">Ldlr<tspan font-size="6.2" dy="-3.3">-/-</tspan><tspan dy="3.3">Gls2</tspan><tspan font-size="6.2" dy="-3.3">-/-</tspan></text>
<rect x="291.5" y="573.3" width="14.6" height="56.8" fill="#fff" stroke="#000" stroke-width="1.2"/>
<rect x="315.6" y="607.6" width="14.8" height="22.5" fill="#c3c3c3" stroke="#000" stroke-width="1.2"/>
<rect x="340.4" y="552.7" width="14.5" height="77.4" fill="#fff" stroke="#000" stroke-width="1.2"/>
<rect x="364.2" y="596.7" width="14.8" height="33.4" fill="#c3c3c3" stroke="#000" stroke-width="1.2"/>
<line x1="287.2" y1="469.0" x2="287.2" y2="630.8" stroke="#000" stroke-width="1.4" />
<line x1="286.5" y1="630.1" x2="383.5" y2="630.1" stroke="#000" stroke-width="1.4" />
<line x1="284.2" y1="630.1" x2="287.2" y2="630.1" stroke="#000" stroke-width="1.1" />
<text x="282.5" y="633.0" font-size="8.6" text-anchor="end" stroke="#000" stroke-width="0.22">0</text>
<line x1="284.2" y1="598.0" x2="287.2" y2="598.0" stroke="#000" stroke-width="1.1" />
<text x="282.5" y="600.9" font-size="8.6" text-anchor="end" stroke="#000" stroke-width="0.22">5</text>
<line x1="284.2" y1="565.9" x2="287.2" y2="565.9" stroke="#000" stroke-width="1.1" />
<text x="282.5" y="568.8" font-size="8.6" text-anchor="end" stroke="#000" stroke-width="0.22">10</text>
<line x1="284.2" y1="533.8" x2="287.2" y2="533.8" stroke="#000" stroke-width="1.1" />
<text x="282.5" y="536.7" font-size="8.6" text-anchor="end" stroke="#000" stroke-width="0.22">15</text>
<line x1="284.2" y1="501.7" x2="287.2" y2="501.7" stroke="#000" stroke-width="1.1" />
<text x="282.5" y="504.6" font-size="8.6" text-anchor="end" stroke="#000" stroke-width="0.22">20</text>
<line x1="284.2" y1="469.6" x2="287.2" y2="469.6" stroke="#000" stroke-width="1.1" />
<text x="282.5" y="472.5" font-size="8.6" text-anchor="end" stroke="#000" stroke-width="0.22">25</text>
<circle cx="299.2" cy="559.0" r="2.3" fill="#fff" stroke="#000" stroke-width="1.3"/>
<circle cx="299.2" cy="572.6" r="2.3" fill="#fff" stroke="#000" stroke-width="1.3"/>
<circle cx="299.2" cy="587.9" r="2.3" fill="#fff" stroke="#000" stroke-width="1.3"/>
<circle cx="318.5" cy="608.0" r="2.3" fill="#fff" stroke="#000" stroke-width="1.3"/>
<circle cx="323.5" cy="606.0" r="2.3" fill="#fff" stroke="#000" stroke-width="1.3"/>
<circle cx="328.8" cy="607.6" r="2.3" fill="#fff" stroke="#000" stroke-width="1.3"/>
<circle cx="348.0" cy="541.9" r="2.3" fill="#fff" stroke="#000" stroke-width="1.3"/>
<circle cx="348.0" cy="555.0" r="2.3" fill="#fff" stroke="#000" stroke-width="1.3"/>
<circle cx="348.0" cy="564.4" r="2.3" fill="#fff" stroke="#000" stroke-width="1.3"/>
<circle cx="372.6" cy="590.5" r="2.3" fill="#fff" stroke="#000" stroke-width="1.3"/>
<circle cx="372.6" cy="596.6" r="2.3" fill="#fff" stroke="#000" stroke-width="1.3"/>
<circle cx="372.6" cy="603.6" r="2.3" fill="#fff" stroke="#000" stroke-width="1.3"/>
<path d="M294.6 564.4H303.4M299.0 564.4V581.7M294.6 581.7H303.4" stroke="#000" stroke-width="1.2" fill="none" />
<path d="M318.8 606.0H327.6M323.2 606.0V608.7M318.8 608.7H327.6" stroke="#000" stroke-width="1.2" fill="none" />
<path d="M343.5 545.2H352.2M347.9 545.2V559.4M343.5 559.4H352.2" stroke="#000" stroke-width="1.2" fill="none" />
<path d="M367.4 591.8H376.2M371.8 591.8V601.5M367.4 601.5H376.2" stroke="#000" stroke-width="1.2" fill="none" />
<text x="269.2" y="548.0" font-size="10.6" text-anchor="middle" transform="rotate(-90 269.2 548.0)" stroke="#000" stroke-width="0.22">Aspartate (a.u)</text>
<path d="M297.0 495.9V501.1M297.0 498.5H370.0M370.0 495.9V501.1" stroke="#000" stroke-width="1.3" fill="none" />
<text x="320.7" y="494.7" font-size="9.1" stroke="#000" stroke-width="0.22"><tspan font-style="italic">P</tspan>=0.02</text>
<path d="M296.2 519.9V525.1M296.2 522.5H343.0M343.0 519.9V525.1" stroke="#000" stroke-width="1.3" fill="none" />
<text x="305.0" y="518.4" font-size="9.1" stroke="#000" stroke-width="0.22"><tspan font-style="italic">P</tspan>=0.04</text>
<path d="M345.9 519.5V524.7M345.9 522.1H375.0M375.0 519.5V524.7" stroke="#000" stroke-width="1.3" fill="none" />
<text x="343.7" y="516.6" font-size="9.1" stroke="#000" stroke-width="0.22"><tspan font-style="italic">P</tspan>=0.001</text>
<path d="M297.0 540.4V545.6M297.0 543.0H326.2M326.2 540.4V545.6" stroke="#000" stroke-width="1.3" fill="none" />
<text x="297.7" y="537.9" font-size="9.1" stroke="#000" stroke-width="0.22"><tspan font-style="italic">P</tspan>=0.01</text>
<text x="265.7" y="644.3" font-size="10" stroke="#000" stroke-width="0.22">BM</text>
<line x1="281.7" y1="642.0" x2="286.4" y2="642.0" stroke="#000" stroke-width="1.3" />
<path d="M289.9 642.0L285.9 639.7L286.9 642.0L285.9 644.3Z" fill="#000"/>
<line x1="290.0" y1="634.4" x2="329.2" y2="634.4" stroke="#000" stroke-width="1.1" />
<line x1="338.6" y1="634.4" x2="377.5" y2="634.4" stroke="#000" stroke-width="1.1" />
<text x="297.4" y="644.5" font-size="10" font-style="italic" stroke="#000" stroke-width="0.22">Ldlr<tspan font-size="6.2" dy="-3.3">-/-</tspan></text>
<text x="333.8" y="644.5" font-size="10" font-style="italic" stroke="#000" stroke-width="0.22">Ldlr<tspan font-size="6.2" dy="-3.3">-/-</tspan><tspan dy="3.3">Gls2</tspan><tspan font-size="6.2" dy="-3.3">-/-</tspan></text>
<rect x="417.6" y="591.6" width="14.8" height="38.5" fill="#fff" stroke="#000" stroke-width="1.2"/>
<rect x="441.9" y="612.1" width="14.6" height="18.0" fill="#c3c3c3" stroke="#000" stroke-width="1.2"/>
<rect x="466.4" y="521.0" width="14.6" height="109.1" fill="#fff" stroke="#000" stroke-width="1.2"/>
<rect x="490.5" y="582.0" width="14.8" height="48.1" fill="#c3c3c3" stroke="#000" stroke-width="1.2"/>
<line x1="412.4" y1="469.0" x2="412.4" y2="630.8" stroke="#000" stroke-width="1.4" />
<line x1="411.7" y1="630.1" x2="509.8" y2="630.1" stroke="#000" stroke-width="1.4" />
<line x1="409.4" y1="630.1" x2="412.4" y2="630.1" stroke="#000" stroke-width="1.1" />
<text x="407.7" y="633.0" font-size="8.6" text-anchor="end" stroke="#000" stroke-width="0.22">0</text>
<line x1="409.4" y1="598.0" x2="412.4" y2="598.0" stroke="#000" stroke-width="1.1" />
<text x="407.7" y="600.9" font-size="8.6" text-anchor="end" stroke="#000" stroke-width="0.22">5</text>
<line x1="409.4" y1="565.9" x2="412.4" y2="565.9" stroke="#000" stroke-width="1.1" />
<text x="407.7" y="568.8" font-size="8.6" text-anchor="end" stroke="#000" stroke-width="0.22">10</text>
<line x1="409.4" y1="533.8" x2="412.4" y2="533.8" stroke="#000" stroke-width="1.1" />
<text x="407.7" y="536.7" font-size="8.6" text-anchor="end" stroke="#000" stroke-width="0.22">15</text>
<line x1="409.4" y1="501.7" x2="412.4" y2="501.7" stroke="#000" stroke-width="1.1" />
<text x="407.7" y="504.6" font-size="8.6" text-anchor="end" stroke="#000" stroke-width="0.22">20</text>
<line x1="409.4" y1="469.6" x2="412.4" y2="469.6" stroke="#000" stroke-width="1.1" />
<text x="407.7" y="472.5" font-size="8.6" text-anchor="end" stroke="#000" stroke-width="0.22">25</text>
<circle cx="425.1" cy="578.7" r="2.3" fill="#fff" stroke="#000" stroke-width="1.3"/>
<circle cx="425.1" cy="592.9" r="2.3" fill="#fff" stroke="#000" stroke-width="1.3"/>
<circle cx="425.1" cy="602.8" r="2.3" fill="#fff" stroke="#000" stroke-width="1.3"/>
<circle cx="444.1" cy="605.4" r="2.3" fill="#fff" stroke="#000" stroke-width="1.3"/>
<circle cx="454.6" cy="609.8" r="2.3" fill="#fff" stroke="#000" stroke-width="1.3"/>
<circle cx="449.2" cy="619.0" r="2.3" fill="#fff" stroke="#000" stroke-width="1.3"/>
<circle cx="473.7" cy="496.3" r="2.3" fill="#fff" stroke="#000" stroke-width="1.3"/>
<circle cx="473.7" cy="516.6" r="2.3" fill="#fff" stroke="#000" stroke-width="1.3"/>
<circle cx="473.7" cy="548.0" r="2.3" fill="#fff" stroke="#000" stroke-width="1.3"/>
<circle cx="498.2" cy="574.3" r="2.3" fill="#fff" stroke="#000" stroke-width="1.3"/>
<circle cx="498.2" cy="581.7" r="2.3" fill="#fff" stroke="#000" stroke-width="1.3"/>
<circle cx="498.2" cy="588.3" r="2.3" fill="#fff" stroke="#000" stroke-width="1.3"/>
<path d="M420.8 584.6H429.6M425.2 584.6V597.7M420.8 597.7H429.6" stroke="#000" stroke-width="1.2" fill="none" />
<path d="M445.0 607.6H453.8M449.4 607.6V615.7M445.0 615.7H453.8" stroke="#000" stroke-width="1.2" fill="none" />
<path d="M469.5 505.0H478.3M473.9 505.0V535.7M469.5 535.7H478.3" stroke="#000" stroke-width="1.2" fill="none" />
<path d="M493.7 577.4H502.5M498.1 577.4V585.7M493.7 585.7H502.5" stroke="#000" stroke-width="1.2" fill="none" />
<text x="394.9" y="548.0" font-size="10.6" text-anchor="middle" transform="rotate(-90 394.9 548.0)" stroke="#000" stroke-width="0.22">Proline (a.u)</text>
<path d="M422.2 465.9V471.1M422.2 468.5H495.1M495.1 465.9V471.1" stroke="#000" stroke-width="1.3" fill="none" />
<text x="446.3" y="464.7" font-size="9.1" stroke="#000" stroke-width="0.22"><tspan font-style="italic">P</tspan>=0.44</text>
<path d="M420.7 485.6V490.8M420.7 488.2H468.2M468.2 485.6V490.8" stroke="#000" stroke-width="1.3" fill="none" />
<text x="427.0" y="483.8" font-size="9.1" stroke="#000" stroke-width="0.22"><tspan font-style="italic">P</tspan>=0.004</text>
<path d="M470.0 485.1V490.3M470.0 487.7H498.9M498.9 485.1V490.3" stroke="#000" stroke-width="1.3" fill="none" />
<text x="467.8" y="482.0" font-size="9.1" stroke="#000" stroke-width="0.22"><tspan font-style="italic">P</tspan>=0.001</text>
<path d="M421.1 557.9V563.1M421.1 560.5H450.0M450.0 557.9V563.1" stroke="#000" stroke-width="1.3" fill="none" />
<text x="421.1" y="555.0" font-size="9.1" stroke="#000" stroke-width="0.22"><tspan font-style="italic">P</tspan>=0.14</text>
<text x="392.8" y="644.3" font-size="10" stroke="#000" stroke-width="0.22">BM</text>
<line x1="408.8" y1="642.0" x2="413.5" y2="642.0" stroke="#000" stroke-width="1.3" />
<path d="M417.0 642.0L413.0 639.7L414.0 642.0L413.0 644.3Z" fill="#000"/>
<line x1="417.1" y1="634.4" x2="456.5" y2="634.4" stroke="#000" stroke-width="1.1" />
<line x1="465.6" y1="634.4" x2="504.0" y2="634.4" stroke="#000" stroke-width="1.1" />
<text x="424.4" y="644.5" font-size="10" font-style="italic" stroke="#000" stroke-width="0.22">Ldlr<tspan font-size="6.2" dy="-3.3">-/-</tspan></text>
<text x="461.0" y="644.5" font-size="10" font-style="italic" stroke="#000" stroke-width="0.22">Ldlr<tspan font-size="6.2" dy="-3.3">-/-</tspan><tspan dy="3.3">Gls2</tspan><tspan font-size="6.2" dy="-3.3">-/-</tspan></text>
</svg>
</body></html>
